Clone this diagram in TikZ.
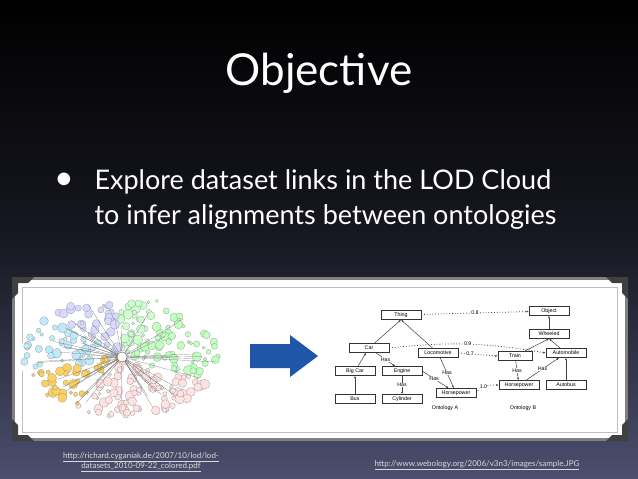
\documentclass[tikz,border=0pt]{standalone}
\usepackage{fontspec}
\setmainfont{Lato}
\newfontfamily\ontf{Liberation Sans}
\usetikzlibrary{arrows.meta}
\definecolor{bgbot}{HTML}{4C4F6E}
\definecolor{arrblue}{HTML}{1F56A8}
\tikzset{
 ob/.style={draw=black!80,line width=0.45pt,fill=white,minimum width=40pt,minimum height=9pt,inner sep=0pt,font=\ontf\fontsize{5.3}{6}\selectfont},
 ed/.style={draw=black!75,line width=0.5pt,-{Latex[length=2.5pt,width=2pt]}},
 dt/.style={draw=black!75,line width=0.8pt,dotted,-{Latex[length=2.5pt,width=2pt]}},
 lb/.style={font=\ontf\fontsize{5.3}{6}\selectfont,fill=white,inner sep=0.3pt},
 url/.style={text=white!85!black,font=\fontsize{8}{10}\selectfont,align=center}
}
\begin{document}
\begin{tikzpicture}[x=1pt,y=-1pt]
\useasboundingbox (0,0) rectangle (638,479);
\shade[top color=black,bottom color=bgbot,middle color=black!70!bgbot] (0,0) rectangle (638,479);
\node[text=white,font=\fontsize{44}{48}\selectfont] (title) at (319,73) {Objective};
\node[text=white,font=\fontsize{34}{34}\selectfont] (bul) at (64,181) {•};
\node[text=white,anchor=west,align=left,font=\fontsize{27}{35}\selectfont] (txt) at (91,200) {Explore dataset links in the LOD Cloud\\to infer alignments between ontologies};
% panel
\fill[black!50] (12,277) rectangle (628,441);
\fill[white] (15,280) rectangle (625,438);
\draw[black!25,line width=0.5pt] (22,287) rectangle (617,432);
\foreach \x/\y/\a in {12/277/0,628/277/-90,628/441/180,12/441/90}{
 \fill[black!75,rotate around={\a:(\x,\y)}] (\x,\y) -- ++(22,0) -- ++(-6,6) -- ++(-10,0) -- ++(0,10) -- ++(-6,6) -- cycle;}
% LOD cloud
\begin{scope}
\clip (122,357) ellipse (102 and 64);
\fill[white] (20,290) rectangle (230,425);
\pgfmathsetseed{7}
\foreach \i in {1,...,300}{
 \pgfmathsetmacro\ang{rnd*360}
 \pgfmathsetmacro\rr{sqrt(rnd)}
 \pgfmathsetmacro\rad{1.5+rnd*3.5}
 \pgfmathtruncatemacro\sec{\ang<25?1:(\ang<120?2:(\ang<165?3:(\ang<225?4:(\ang<265?5:(\ang<300?6:1)))))}
 \ifcase\sec\or\def\cc{green!25}\or\def\cc{pink!45}\or\def\cc{yellow!45!orange!60}\or\def\cc{cyan!25}\or\def\cc{blue!15}\or\def\cc{green!20}\fi
 \draw[black!45,line width=0.2pt,fill=\cc] ({122+98*\rr*cos(\ang)},{357+60*\rr*sin(\ang)}) circle (\rad);}
\foreach \i in {1,...,50}{
 \pgfmathsetmacro\ang{rnd*360}
 \pgfmathsetmacro\rr{sqrt(rnd)}
 \draw[black!55,line width=0.2pt] (122,357) -- ({122+95*\rr*cos(\ang)},{357+58*\rr*sin(\ang)});}
\end{scope}
\draw[black!60,fill=white] (122,357) circle (5);
% arrow
\fill[arrblue] (250,344) -- (290,344) -- (290,335) -- (318,356) -- (290,377) -- (290,368) -- (250,368) -- cycle;
\coordinate (arr) at (284,356);
% ontology
\node[ob] (thing) at (401,315) {Thing};
\node[ob] (object) at (549,311) {Object};
\node[ob] (wheeled) at (549,334) {Wheeled};
\node[ob] (car) at (369,348) {Car};
\node[ob] (loco) at (438,353) {Locomotive};
\node[ob,minimum width=34pt] (train) at (515,356) {Train};
\node[ob] (auto) at (566,353) {Automobile};
\node[ob] (bigcar) at (355,371) {Big Car};
\node[ob] (engine) at (402,371) {Engine};
\node[ob] (hpa) at (456,393) {Horsepower};
\node[ob] (hpb) at (519,385) {Horsepower};
\node[ob] (autobus) at (566,385) {Autobus};
\node[ob] (bus) at (355,399) {Bus};
\node[ob] (cyl) at (402,399) {Cylinder};
\node[lb] (oa) at (445,408) {Ontology A};
\node[lb] (obl) at (523,408) {Ontology B};
\draw[ed] (car) -- (thing.south);
\draw[ed] (loco) -- (thing.south);
\draw[ed] (wheeled) -- (object);
\draw[ed] (train) -- (wheeled.south);
\draw[ed] (auto) -- (wheeled.south);
\draw[ed] (bus) -- (bigcar);
\draw[ed] (bigcar) -- (car);
\draw[ed] (car) -- node[lb]{Has} (engine);
\draw[ed] (engine) -- node[lb]{Has} (cyl);
\draw[ed] (loco) -- node[lb]{Has} (hpa);
\draw[ed] (engine.east) -- node[lb,pos=0.45]{Has} (hpa);
\draw[ed] (train) -- node[lb]{Has} (hpb);
\draw[ed] (hpb) -- node[lb]{Has} (auto);
\draw[ed] (autobus) -- (auto);
\draw[dt] (thing) -- node[lb]{0.8} (object);
\draw[dt] (car.east) to[bend left=8] node[lb,pos=0.5]{0.9} (auto.west);
\draw[dt] (loco.east) -- node[lb,pos=0.3]{0.7} (train.west);
\draw[dt] (hpa.east) to[out=60,in=180] node[lb,pos=0.4]{1.0} (hpb.west);
% urls
\node[url] (u1) at (141,462) {\underline{http://richard.cyganiak.de/2007/10/lod/lod-}\\\underline{datasets\_2010-09-22\_colored.pdf}};
\node[url] (u2) at (477,465) {\underline{http://www.webology.org/2006/v3n3/images/sample.JPG}};
\end{tikzpicture}
\end{document}
